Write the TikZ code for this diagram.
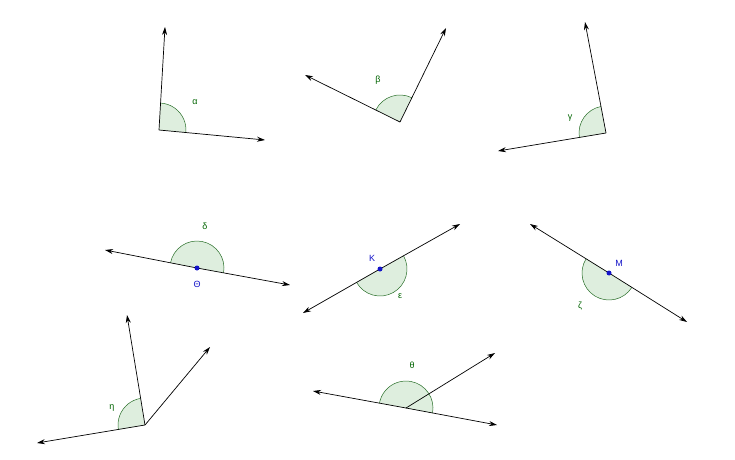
\documentclass[tikz,border=0pt]{standalone}
\usepackage{fontspec}
\setmainfont{Liberation Sans}
\usetikzlibrary{angles,arrows.meta}
\definecolor{angfill}{RGB}{222,238,222}
\definecolor{angedge}{RGB}{40,110,40}
\definecolor{lblgreen}{RGB}{0,100,0}
\definecolor{ptblue}{RGB}{20,20,200}
\tikzset{every picture/.style={line width=0.7pt}}

\begin{document}
\begin{tikzpicture}[x=1pt,y=1pt,
  ray/.style={-{Stealth[length=8pt,width=5pt]}},
  sector/.style={draw=angedge,fill=angfill,line width=0.5pt,angle radius=27pt},
  lbl/.style={text=lblgreen,font=\small},
  ptlbl/.style={text=ptblue,font=\small},
  pt/.style={circle,fill=ptblue,inner sep=0pt,minimum size=5pt}]
\useasboundingbox (0,0) rectangle (735,459);

%alpha
\coordinate (Va) at (159,329); \coordinate (Ua) at (165,432); \coordinate (Ra) at (265,319);
\pic[sector] {angle=Ra--Va--Ua};
\draw[ray] (Va) -- (Ua); \draw[ray] (Va) -- (Ra);
\node[lbl] (la) at (195,357) {α};

%beta
\coordinate (Vb) at (400,337); \coordinate (Lb) at (305,384); \coordinate (Rb) at (446,431);
\pic[sector] {angle=Rb--Vb--Lb};
\draw[ray] (Vb) -- (Lb); \draw[ray] (Vb) -- (Rb);
\node[lbl] (lb) at (378,379) {β};

%gamma
\coordinate (Vc) at (606,326); \coordinate (Uc) at (585,437); \coordinate (Lc) at (498,308);
\pic[sector] {angle=Uc--Vc--Lc};
\draw[ray] (Vc) -- (Uc); \draw[ray] (Vc) -- (Lc);
\node[lbl] (lc) at (570,341) {γ};

%delta
\coordinate (Ld) at (105,209); \coordinate (Rd) at (290,174); \coordinate (Td) at (197,191);
\pic[sector] {angle=Rd--Td--Ld};
\draw[ray] (Td) -- (Ld); \draw[ray] (Td) -- (Rd);
\node[pt] (Theta) at (Td) {};
\node[lbl] (ld) at (205,233) {δ};
\node[ptlbl] (lT) at (197,175) {Θ};

%epsilon
\coordinate (Le) at (303,146); \coordinate (Re) at (460,235); \coordinate (Ke) at (380,190);
\pic[sector] {angle=Le--Ke--Re};
\draw[ray] (Ke) -- (Le); \draw[ray] (Ke) -- (Re);
\node[pt] (K) at (Ke) {};
\node[ptlbl] (lK) at (372,201) {K};
\node[lbl] (le) at (400,163) {ε};

%zeta
\coordinate (Lz) at (530,235); \coordinate (Rz) at (687,137); \coordinate (Mz) at (609,186);
\pic[sector] {angle=Lz--Mz--Rz};
\draw[ray] (Mz) -- (Lz); \draw[ray] (Mz) -- (Rz);
\node[pt] (M) at (Mz) {};
\node[ptlbl] (lM) at (619,196) {M};
\node[lbl] (lz) at (580,153) {ζ};

%eta
\coordinate (Vh) at (145,34); \coordinate (Uh) at (127,144); \coordinate (Lh) at (37,16); \coordinate (Rh) at (210,112);
\pic[sector] {angle=Uh--Vh--Lh};
\draw[ray] (Vh) -- (Uh); \draw[ray] (Vh) -- (Lh); \draw[ray] (Vh) -- (Rh);
\node[lbl] (lh) at (112,51) {η};

%theta
\coordinate (Vt) at (406,51); \coordinate (Lt) at (313,68); \coordinate (Rt) at (497,34); \coordinate (Ut) at (495,106);
\pic[sector] {angle=Rt--Vt--Lt};
\draw[ray] (Vt) -- (Lt); \draw[ray] (Vt) -- (Rt); \draw[ray] (Vt) -- (Ut);
\node[lbl] (lt) at (412,94) {θ};
\end{tikzpicture}
\end{document}
